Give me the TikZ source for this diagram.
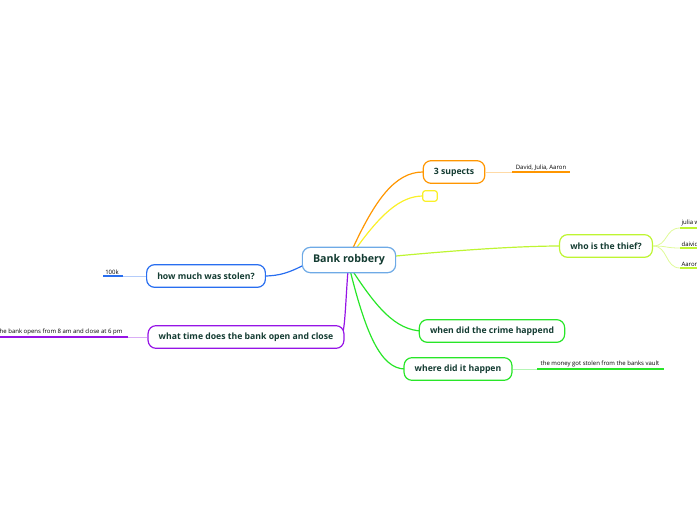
\documentclass[tikz,border=0pt]{standalone}
\usepackage{fontspec}
\setmainfont{Open Sans}
\definecolor{cBlue}{RGB}{40,110,240}
\definecolor{cLBlue}{RGB}{110,170,230}
\definecolor{cOrange}{RGB}{255,150,0}
\definecolor{cYellow}{RGB}{250,240,40}
\definecolor{cLime}{RGB}{190,245,50}
\definecolor{cGreen}{RGB}{40,230,40}
\definecolor{cPurple}{RGB}{150,20,230}
\definecolor{cText}{RGB}{20,60,50}
\tikzset{
  topic/.style={draw, rounded corners=6pt, line width=0.9pt, fill=white, text=cText, font=\bfseries\fontsize{6.5}{8}\selectfont, inner xsep=8pt, minimum height=17pt},
  leaf/.style={font=\fontsize{4.5}{5}\selectfont, text=black, inner sep=1pt}
}
\begin{document}
\begin{tikzpicture}[x=0.75pt,y=0.75pt,yscale=-1,xscale=1]
\useasboundingbox (0,0) rectangle (697,520);

%Connectors from the centre
\draw [cOrange, line width=0.9pt] (352,250) .. controls (375,200) and (395,172) .. (423,172) ;
\draw [cYellow, line width=0.9pt] (355,250) .. controls (380,215) and (400,196) .. (423,196) ;
\draw [cLime, line width=0.9pt] (396,256) .. controls (460,250) and (520,246) .. (561,246) ;
\draw [cGreen, line width=0.9pt] (352,270) .. controls (375,305) and (395,331) .. (423,331) ;
\draw [cGreen, line width=0.9pt] (350,270) .. controls (365,330) and (380,369) .. (405,369) ;
\draw [cBlue, line width=0.9pt] (302,266) .. controls (290,272) and (280,276) .. (264,276) ;
\draw [cPurple, line width=0.9pt] (348,270) .. controls (345,310) and (345,337) .. (340,337) ;

% Text Node
\node [topic, draw=cLBlue, font=\bfseries\fontsize{8}{9}\selectfont, minimum height=19pt] (root) at (349,260) {Bank robbery};
\node [topic, draw=cOrange] (sus) at (454,172) {3 supects};
\node [draw=cYellow, rounded corners=2pt, line width=0.9pt, minimum width=11pt, minimum height=8pt, fill=white] (empty) at (430,196) {};
\node [topic, draw=cLime] (who) at (606,246) {who is the thief?};
\node [topic, draw=cGreen] (when) at (492,331) {when did the crime happend};
\node [topic, draw=cGreen] (where) at (458,369) {where did it happen};
\node [topic, draw=cBlue] (much) at (206,276) {how much was stolen?};
\node [topic, draw=cPurple] (time) at (246,337) {what time does the bank open and close};

%Leaves
\coordinate (susA) at (512,172); \coordinate (susB) at (570,172);
\draw [cOrange!35, line width=0.6pt] (sus.east) -- (susA);
\draw [cOrange, line width=0.9pt] (susA) -- (susB);
\node [leaf, above] at (541,172) {David, Julia, Aaron};

\coordinate (whA) at (537,369); \coordinate (whB) at (664,369);
\draw [cGreen!35, line width=0.6pt] (where.east) -- (whA);
\draw [cGreen, line width=0.9pt] (whA) -- (whB);
\node [leaf, above] at (600,369) {the money got stolen from the banks vault};

\coordinate (muA) at (123,276); \coordinate (muB) at (103,276);
\draw [cBlue!35, line width=0.6pt] (much.west) -- (muA);
\draw [cBlue, line width=0.9pt] (muA) -- (muB);
\node [leaf, above] at (112,276) {100k};

\coordinate (tiA) at (128,337); \coordinate (tiB) at (0,337);
\draw [cPurple!35, line width=0.6pt] (time.west) -- (tiA);
\draw [cPurple, line width=0.9pt] (tiA) -- (tiB);
\node [leaf, above left] at (124,337) {the bank opens from 8 am and close at 6 pm};

\foreach \y/\t in {228/julia w, 248/daivid, 268/Aaron} {
  \draw [cLime!50, line width=0.6pt] (who.east) .. controls (668,246) and (665,\y) .. (680,\y);
  \draw [cLime, line width=0.9pt] (680,\y) -- (697,\y);
  \node [leaf, above right] at (680,\y) {\t};
}
\end{tikzpicture}
\end{document}
